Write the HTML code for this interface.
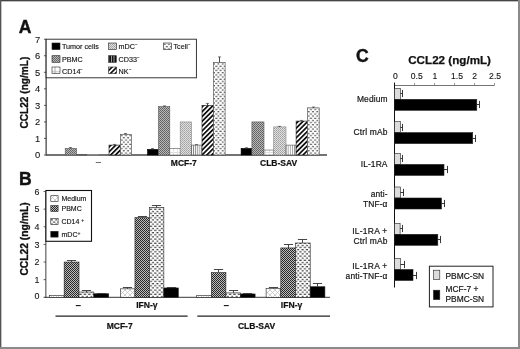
<!DOCTYPE html>
<html><head><meta charset="utf-8"><title>CCL22 figure</title>
<style>html,body{margin:0;padding:0;background:#fff;overflow:hidden}svg{display:block}text{font-family:"Liberation Sans", sans-serif;fill:#111}</style></head><body>
<svg width="520" height="349" viewBox="0 0 520 349">
<defs>
<pattern id="pPBMC" width="2" height="2" patternUnits="userSpaceOnUse"><rect width="2" height="2" fill="#b8b8b8"/><rect width="1" height="1" fill="#606060"/><rect x="1" y="1" width="1" height="1" fill="#6a6a6a"/></pattern>
<pattern id="pCD14" width="4" height="5" patternUnits="userSpaceOnUse"><rect width="4" height="5" fill="#fff"/><rect y="2" width="4" height="1" fill="#ddd"/><rect x="1" width="1" height="5" fill="#e6e6e6"/></pattern>
<pattern id="pMDC" width="2" height="2" patternUnits="userSpaceOnUse"><rect width="2" height="2" fill="#e0e0e0"/><rect width="1" height="1" fill="#a0a0a0"/><rect x="1" y="1" width="1" height="1" fill="#adadad"/></pattern>
<pattern id="pCD33" width="2.1" height="4" patternUnits="userSpaceOnUse"><rect width="2.1" height="4" fill="#fff"/><rect width="0.8" height="4" fill="#808080"/></pattern>
<pattern id="pCD33L" width="2.6" height="4" patternUnits="userSpaceOnUse"><rect width="2.6" height="4" fill="#111"/><rect x="2" width="0.6" height="4" fill="#fff"/></pattern>
<pattern id="pCD14L" x="52" y="67" width="8" height="6.6" patternUnits="userSpaceOnUse"><rect width="8" height="6.6" fill="#fff"/><rect x="2.6" width="0.8" height="6.6" fill="#999"/><rect y="4.2" width="8" height="0.8" fill="#aaa"/></pattern>
<pattern id="pNK" width="3.4" height="3.4" patternUnits="userSpaceOnUse" patternTransform="rotate(-45)"><rect width="3.4" height="3.4" fill="#fff"/><rect width="3.4" height="1.75" fill="#111"/></pattern>
<pattern id="pT" width="4.3" height="4.34" patternUnits="userSpaceOnUse"><rect width="4.3" height="4.34" fill="#fff"/><rect x="0.3" y="0.6" width="2" height="1" fill="#383838"/><rect x="2.45" y="2.77" width="2" height="1" fill="#383838"/></pattern>
<pattern id="pMed" width="5" height="5" patternUnits="userSpaceOnUse"><rect width="5" height="5" fill="#fff"/><path d="M0 0L5 5M5 0L0 5" stroke="#bbb" stroke-width="0.7"/></pattern>
<pattern id="pPB2" width="2" height="2" patternUnits="userSpaceOnUse"><rect width="2" height="2" fill="#bcbcbc"/><rect width="1" height="1" fill="#262626"/><rect x="1" y="1" width="1" height="1" fill="#2c2c2c"/></pattern>
<pattern id="pC14b" width="4.4" height="4.25" patternUnits="userSpaceOnUse"><rect width="4.4" height="4.25" fill="#fff"/><rect x="0.2" y="0.5" width="2.2" height="1.1" fill="#2e2e2e"/><rect x="2.4" y="2.62" width="2.2" height="1.1" fill="#2e2e2e"/></pattern>
</defs>
<rect x="0" y="0" width="520" height="349" fill="#fff"/>
<rect x="0" y="0" width="520" height="1.35" fill="#444"/>
<rect x="0" y="0" width="1.35" height="349" fill="#555"/>
<rect x="518" y="0" width="2" height="349" fill="#8a8a8a"/>
<rect x="0" y="347" width="520" height="2" fill="#8a8a8a"/>
<text x="18.70" y="32.90" font-size="17.6" font-weight="bold" text-anchor="start" stroke="#111" stroke-width="0.4">A</text>
<text transform="translate(27.6,92.6) rotate(-90)" stroke="#111" stroke-width="0.3" font-size="10.1" font-weight="bold" text-anchor="middle">CCL22 (ng/mL)</text>
<line x1="46.15" y1="39.22" x2="46.15" y2="155.60" stroke="#555" stroke-width="1.4"/>
<line x1="46.15" y1="155.00" x2="327.00" y2="155.00" stroke="#444" stroke-width="1.3"/>
<line x1="43.95" y1="155.00" x2="46.15" y2="155.00" stroke="#333" stroke-width="0.8"/>
<text x="40.30" y="158.30" font-size="9.4" text-anchor="end" stroke="#222" stroke-width="0.1">0</text>
<line x1="43.95" y1="138.46" x2="46.15" y2="138.46" stroke="#333" stroke-width="0.8"/>
<text x="40.30" y="141.76" font-size="9.4" text-anchor="end" stroke="#222" stroke-width="0.1">1</text>
<line x1="43.95" y1="121.92" x2="46.15" y2="121.92" stroke="#333" stroke-width="0.8"/>
<text x="40.30" y="125.22" font-size="9.4" text-anchor="end" stroke="#222" stroke-width="0.1">2</text>
<line x1="43.95" y1="105.38" x2="46.15" y2="105.38" stroke="#333" stroke-width="0.8"/>
<text x="40.30" y="108.68" font-size="9.4" text-anchor="end" stroke="#222" stroke-width="0.1">3</text>
<line x1="43.95" y1="88.84" x2="46.15" y2="88.84" stroke="#333" stroke-width="0.8"/>
<text x="40.30" y="92.14" font-size="9.4" text-anchor="end" stroke="#222" stroke-width="0.1">4</text>
<line x1="43.95" y1="72.30" x2="46.15" y2="72.30" stroke="#333" stroke-width="0.8"/>
<text x="40.30" y="75.60" font-size="9.4" text-anchor="end" stroke="#222" stroke-width="0.1">5</text>
<line x1="43.95" y1="55.76" x2="46.15" y2="55.76" stroke="#333" stroke-width="0.8"/>
<text x="40.30" y="59.06" font-size="9.4" text-anchor="end" stroke="#222" stroke-width="0.1">6</text>
<line x1="43.95" y1="39.22" x2="46.15" y2="39.22" stroke="#333" stroke-width="0.8"/>
<text x="40.30" y="42.52" font-size="9.4" text-anchor="end" stroke="#222" stroke-width="0.1">7</text>
<rect x="65.20" y="148.38" width="11.40" height="6.62" fill="url(#pPBMC)" stroke="#5a5a5a" stroke-width="0.6"/>
<line x1="70.50" y1="148.38" x2="70.50" y2="147.56" stroke="#333" stroke-width="0.9"/>
<line x1="68.90" y1="147.56" x2="72.10" y2="147.56" stroke="#444" stroke-width="0.7"/>
<rect x="76.60" y="154.50" width="11.00" height="0.50" fill="url(#pCD14)" stroke="#555" stroke-width="0.6"/>
<rect x="87.60" y="154.50" width="10.80" height="0.50" fill="url(#pMDC)" stroke="#8a8a8a" stroke-width="0.6"/>
<rect x="109.00" y="145.08" width="11.30" height="9.92" fill="url(#pNK)" stroke="#111" stroke-width="0.6"/>
<line x1="114.50" y1="145.08" x2="114.50" y2="144.41" stroke="#333" stroke-width="0.9"/>
<line x1="112.90" y1="144.41" x2="116.10" y2="144.41" stroke="#444" stroke-width="0.7"/>
<rect x="120.30" y="134.32" width="11.30" height="20.67" fill="url(#pT)" stroke="#444" stroke-width="0.6"/>
<line x1="125.50" y1="134.32" x2="125.50" y2="133.50" stroke="#333" stroke-width="0.9"/>
<line x1="123.90" y1="133.50" x2="127.10" y2="133.50" stroke="#444" stroke-width="0.7"/>
<rect x="147.50" y="149.38" width="10.90" height="5.62" fill="#000" stroke="#000" stroke-width="0.6"/>
<line x1="152.50" y1="149.38" x2="152.50" y2="148.55" stroke="#333" stroke-width="0.9"/>
<line x1="150.90" y1="148.55" x2="154.10" y2="148.55" stroke="#444" stroke-width="0.7"/>
<rect x="158.40" y="106.54" width="11.40" height="48.46" fill="url(#pPBMC)" stroke="#5a5a5a" stroke-width="0.6"/>
<line x1="164.50" y1="106.54" x2="164.50" y2="105.88" stroke="#333" stroke-width="0.9"/>
<line x1="162.90" y1="105.88" x2="166.10" y2="105.88" stroke="#444" stroke-width="0.7"/>
<rect x="169.80" y="148.38" width="10.40" height="6.62" fill="url(#pCD14)" stroke="#555" stroke-width="0.6"/>
<rect x="180.20" y="121.92" width="11.40" height="33.08" fill="url(#pMDC)" stroke="#8a8a8a" stroke-width="0.6"/>
<rect x="191.60" y="145.08" width="10.40" height="9.92" fill="url(#pCD33)" stroke="#555" stroke-width="0.6"/>
<line x1="196.50" y1="145.08" x2="196.50" y2="144.58" stroke="#333" stroke-width="0.9"/>
<line x1="194.90" y1="144.58" x2="198.10" y2="144.58" stroke="#444" stroke-width="0.7"/>
<rect x="202.00" y="105.38" width="11.50" height="49.62" fill="url(#pNK)" stroke="#111" stroke-width="0.6"/>
<line x1="207.50" y1="105.38" x2="207.50" y2="103.40" stroke="#333" stroke-width="0.9"/>
<line x1="205.90" y1="103.40" x2="209.10" y2="103.40" stroke="#444" stroke-width="0.7"/>
<rect x="213.50" y="62.38" width="11.60" height="92.62" fill="url(#pT)" stroke="#444" stroke-width="0.6"/>
<line x1="219.50" y1="62.38" x2="219.50" y2="56.92" stroke="#333" stroke-width="0.9"/>
<line x1="217.90" y1="56.92" x2="221.10" y2="56.92" stroke="#444" stroke-width="0.7"/>
<rect x="241.10" y="148.38" width="10.80" height="6.62" fill="#000" stroke="#000" stroke-width="0.6"/>
<line x1="246.50" y1="148.38" x2="246.50" y2="147.72" stroke="#333" stroke-width="0.9"/>
<line x1="244.90" y1="147.72" x2="248.10" y2="147.72" stroke="#444" stroke-width="0.7"/>
<rect x="251.90" y="121.92" width="12.10" height="33.08" fill="url(#pPBMC)" stroke="#5a5a5a" stroke-width="0.6"/>
<rect x="264.00" y="150.04" width="9.70" height="4.96" fill="url(#pCD14)" stroke="#555" stroke-width="0.6"/>
<rect x="273.70" y="126.88" width="12.30" height="28.12" fill="url(#pMDC)" stroke="#8a8a8a" stroke-width="0.6"/>
<line x1="279.50" y1="126.88" x2="279.50" y2="126.39" stroke="#333" stroke-width="0.9"/>
<line x1="277.90" y1="126.39" x2="281.10" y2="126.39" stroke="#444" stroke-width="0.7"/>
<rect x="286.00" y="145.08" width="10.10" height="9.92" fill="url(#pCD33)" stroke="#555" stroke-width="0.6"/>
<rect x="296.10" y="121.09" width="11.30" height="33.91" fill="url(#pNK)" stroke="#111" stroke-width="0.6"/>
<line x1="301.50" y1="121.09" x2="301.50" y2="120.43" stroke="#333" stroke-width="0.9"/>
<line x1="299.90" y1="120.43" x2="303.10" y2="120.43" stroke="#444" stroke-width="0.7"/>
<rect x="307.40" y="107.86" width="11.80" height="47.14" fill="url(#pT)" stroke="#444" stroke-width="0.6"/>
<line x1="313.50" y1="107.86" x2="313.50" y2="107.03" stroke="#333" stroke-width="0.9"/>
<line x1="311.90" y1="107.03" x2="315.10" y2="107.03" stroke="#444" stroke-width="0.7"/>
<text x="98.50" y="165.10" font-size="9.5" text-anchor="middle" fill="#444">–</text>
<text x="183.80" y="166.00" font-size="8.5" font-weight="bold" text-anchor="middle" stroke="#111" stroke-width="0.2">MCF-7</text>
<text x="278.60" y="166.00" font-size="8.5" font-weight="bold" text-anchor="middle" stroke="#111" stroke-width="0.2">CLB-SAV</text>
<rect x="46.15" y="39.20" width="150.25" height="38.60" fill="#fff" stroke="#222" stroke-width="0.9"/>
<rect x="52.00" y="43.00" width="8.00" height="6.60" fill="#000" stroke="#222" stroke-width="0.6"/>
<text x="62.00" y="49.40" font-size="7.2" text-anchor="start" fill="#222" stroke="#222" stroke-width="0.15">Tumor cells</text>
<rect x="52.00" y="55.70" width="8.00" height="6.60" fill="url(#pPBMC)" stroke="#222" stroke-width="0.6"/>
<text x="62.00" y="62.00" font-size="7.2" text-anchor="start" fill="#222" stroke="#222" stroke-width="0.15">PBMC</text>
<rect x="52.00" y="67.00" width="8.00" height="6.60" fill="url(#pCD14L)" stroke="#222" stroke-width="0.6"/>
<text x="62.00" y="73.70" font-size="7.2" text-anchor="start" fill="#222" stroke="#222" stroke-width="0.15">CD14⁻</text>
<rect x="108.60" y="43.00" width="8.00" height="6.60" fill="url(#pMDC)" stroke="#222" stroke-width="0.6"/>
<text x="118.60" y="49.40" font-size="7.2" text-anchor="start" fill="#222" stroke="#222" stroke-width="0.15">mDC⁻</text>
<rect x="108.60" y="55.70" width="8.00" height="6.60" fill="url(#pCD33L)" stroke="#222" stroke-width="0.6"/>
<text x="118.60" y="62.00" font-size="7.2" text-anchor="start" fill="#222" stroke="#222" stroke-width="0.15">CD33⁻</text>
<rect x="108.60" y="67.00" width="8.00" height="6.60" fill="url(#pNK)" stroke="#222" stroke-width="0.6"/>
<text x="118.60" y="73.70" font-size="7.2" text-anchor="start" fill="#222" stroke="#222" stroke-width="0.15">NK⁻</text>
<rect x="163.50" y="43.00" width="8.00" height="6.60" fill="url(#pT)" stroke="#222" stroke-width="0.6"/>
<text x="173.50" y="49.40" font-size="7.2" text-anchor="start" fill="#222" stroke="#222" stroke-width="0.15">Tcell⁻</text>
<text x="18.90" y="184.50" font-size="17.6" font-weight="bold" text-anchor="start" stroke="#111" stroke-width="0.4">B</text>
<text transform="translate(27.8,239) rotate(-90)" stroke="#111" stroke-width="0.3" font-size="10.3" font-weight="bold" text-anchor="middle">CCL22 (ng/mL)</text>
<line x1="45.80" y1="191.52" x2="45.80" y2="297.80" stroke="#777" stroke-width="1.4"/>
<line x1="43.60" y1="297.30" x2="330.00" y2="297.30" stroke="#222" stroke-width="0.9"/>
<text x="39.50" y="299.00" font-size="8.9" text-anchor="end" stroke="#222" stroke-width="0.1">0</text>
<line x1="43.60" y1="279.67" x2="45.80" y2="279.67" stroke="#333" stroke-width="0.8"/>
<text x="39.50" y="282.97" font-size="8.9" text-anchor="end" stroke="#222" stroke-width="0.1">1</text>
<line x1="43.60" y1="262.04" x2="45.80" y2="262.04" stroke="#333" stroke-width="0.8"/>
<text x="39.50" y="265.34" font-size="8.9" text-anchor="end" stroke="#222" stroke-width="0.1">2</text>
<line x1="43.60" y1="244.41" x2="45.80" y2="244.41" stroke="#333" stroke-width="0.8"/>
<text x="39.50" y="247.71" font-size="8.9" text-anchor="end" stroke="#222" stroke-width="0.1">3</text>
<line x1="43.60" y1="226.78" x2="45.80" y2="226.78" stroke="#333" stroke-width="0.8"/>
<text x="39.50" y="230.08" font-size="8.9" text-anchor="end" stroke="#222" stroke-width="0.1">4</text>
<line x1="43.60" y1="209.15" x2="45.80" y2="209.15" stroke="#333" stroke-width="0.8"/>
<text x="39.50" y="212.45" font-size="8.9" text-anchor="end" stroke="#222" stroke-width="0.1">5</text>
<line x1="43.60" y1="191.52" x2="45.80" y2="191.52" stroke="#333" stroke-width="0.8"/>
<text x="39.50" y="194.82" font-size="8.9" text-anchor="end" stroke="#222" stroke-width="0.1">6</text>
<rect x="49.30" y="295.36" width="14.85" height="1.94" fill="url(#pMed)" stroke="#222" stroke-width="0.6"/>
<rect x="64.15" y="262.04" width="14.85" height="35.26" fill="url(#pPB2)" stroke="#222" stroke-width="0.6"/>
<line x1="71.50" y1="262.04" x2="71.50" y2="260.50" stroke="#333" stroke-width="0.9"/>
<line x1="66.90" y1="260.50" x2="76.10" y2="260.50" stroke="#333" stroke-width="0.9"/>
<rect x="79.00" y="292.01" width="14.85" height="5.29" fill="url(#pC14b)" stroke="#222" stroke-width="0.6"/>
<line x1="86.50" y1="292.01" x2="86.50" y2="290.50" stroke="#333" stroke-width="0.9"/>
<line x1="81.90" y1="290.50" x2="91.10" y2="290.50" stroke="#333" stroke-width="0.9"/>
<rect x="93.85" y="293.77" width="14.85" height="3.53" fill="#000" stroke="#222" stroke-width="0.6"/>
<line x1="101.50" y1="293.77" x2="101.50" y2="293.50" stroke="#333" stroke-width="0.9"/>
<line x1="96.90" y1="293.50" x2="106.10" y2="293.50" stroke="#333" stroke-width="0.9"/>
<rect x="120.50" y="288.84" width="14.45" height="8.46" fill="url(#pMed)" stroke="#222" stroke-width="0.6"/>
<line x1="127.50" y1="288.84" x2="127.50" y2="287.50" stroke="#333" stroke-width="0.9"/>
<line x1="122.90" y1="287.50" x2="132.10" y2="287.50" stroke="#333" stroke-width="0.9"/>
<rect x="134.95" y="217.61" width="14.45" height="79.69" fill="url(#pPB2)" stroke="#222" stroke-width="0.6"/>
<line x1="142.50" y1="217.61" x2="142.50" y2="216.50" stroke="#333" stroke-width="0.9"/>
<line x1="137.90" y1="216.50" x2="147.10" y2="216.50" stroke="#333" stroke-width="0.9"/>
<rect x="149.40" y="207.39" width="14.45" height="89.91" fill="url(#pC14b)" stroke="#222" stroke-width="0.6"/>
<line x1="156.50" y1="207.39" x2="156.50" y2="205.50" stroke="#333" stroke-width="0.9"/>
<line x1="151.90" y1="205.50" x2="161.10" y2="205.50" stroke="#333" stroke-width="0.9"/>
<rect x="163.85" y="287.96" width="14.45" height="9.34" fill="#000" stroke="#222" stroke-width="0.6"/>
<line x1="171.50" y1="287.96" x2="171.50" y2="287.50" stroke="#333" stroke-width="0.9"/>
<line x1="166.90" y1="287.50" x2="176.10" y2="287.50" stroke="#333" stroke-width="0.9"/>
<rect x="196.70" y="295.54" width="14.60" height="1.76" fill="url(#pMed)" stroke="#222" stroke-width="0.6"/>
<rect x="211.30" y="272.62" width="14.60" height="24.68" fill="url(#pPB2)" stroke="#222" stroke-width="0.6"/>
<line x1="218.50" y1="272.62" x2="218.50" y2="269.50" stroke="#333" stroke-width="0.9"/>
<line x1="213.90" y1="269.50" x2="223.10" y2="269.50" stroke="#333" stroke-width="0.9"/>
<rect x="225.90" y="292.89" width="14.60" height="4.41" fill="url(#pC14b)" stroke="#222" stroke-width="0.6"/>
<line x1="233.50" y1="292.89" x2="233.50" y2="290.50" stroke="#333" stroke-width="0.9"/>
<line x1="228.90" y1="290.50" x2="238.10" y2="290.50" stroke="#333" stroke-width="0.9"/>
<rect x="240.50" y="293.95" width="14.60" height="3.35" fill="#000" stroke="#222" stroke-width="0.6"/>
<line x1="247.50" y1="293.95" x2="247.50" y2="293.50" stroke="#333" stroke-width="0.9"/>
<line x1="242.90" y1="293.50" x2="252.10" y2="293.50" stroke="#333" stroke-width="0.9"/>
<rect x="266.10" y="288.49" width="14.70" height="8.81" fill="url(#pMed)" stroke="#222" stroke-width="0.6"/>
<line x1="273.50" y1="288.49" x2="273.50" y2="287.50" stroke="#333" stroke-width="0.9"/>
<line x1="268.90" y1="287.50" x2="278.10" y2="287.50" stroke="#333" stroke-width="0.9"/>
<rect x="280.80" y="247.94" width="14.70" height="49.36" fill="url(#pPB2)" stroke="#222" stroke-width="0.6"/>
<line x1="288.50" y1="247.94" x2="288.50" y2="244.50" stroke="#333" stroke-width="0.9"/>
<line x1="283.90" y1="244.50" x2="293.10" y2="244.50" stroke="#333" stroke-width="0.9"/>
<rect x="295.50" y="243.00" width="14.70" height="54.30" fill="url(#pC14b)" stroke="#222" stroke-width="0.6"/>
<line x1="302.50" y1="243.00" x2="302.50" y2="239.50" stroke="#333" stroke-width="0.9"/>
<line x1="297.90" y1="239.50" x2="307.10" y2="239.50" stroke="#333" stroke-width="0.9"/>
<rect x="310.20" y="286.72" width="14.70" height="10.58" fill="#000" stroke="#222" stroke-width="0.6"/>
<line x1="317.50" y1="286.72" x2="317.50" y2="283.50" stroke="#333" stroke-width="0.9"/>
<line x1="312.90" y1="283.50" x2="322.10" y2="283.50" stroke="#333" stroke-width="0.9"/>
<text x="78.30" y="309.20" font-size="10" font-weight="bold" text-anchor="middle">–</text>
<text x="146.90" y="307.50" font-size="8.6" font-weight="bold" text-anchor="middle" stroke="#111" stroke-width="0.2">IFN-γ</text>
<text x="226.40" y="309.20" font-size="10" font-weight="bold" text-anchor="middle">–</text>
<text x="291.60" y="307.50" font-size="8.6" font-weight="bold" text-anchor="middle" stroke="#111" stroke-width="0.2">IFN-γ</text>
<line x1="55.50" y1="316.10" x2="187.60" y2="316.10" stroke="#222" stroke-width="1.1"/>
<line x1="197.30" y1="316.10" x2="330.00" y2="316.10" stroke="#222" stroke-width="1.1"/>
<text x="119.70" y="329.20" font-size="8.5" font-weight="bold" text-anchor="middle" stroke="#111" stroke-width="0.2">MCF-7</text>
<text x="256.50" y="329.20" font-size="8.5" font-weight="bold" text-anchor="middle" stroke="#111" stroke-width="0.2">CLB-SAV</text>
<rect x="45.90" y="190.50" width="45.60" height="50.80" fill="#fff" stroke="#111" stroke-width="1.1"/>
<rect x="50.80" y="195.70" width="7.30" height="5.80" fill="url(#pMed)" stroke="#222" stroke-width="0.6"/>
<text x="61.50" y="201.30" font-size="7" text-anchor="start" fill="#222" stroke="#222" stroke-width="0.15">Medium</text>
<rect x="50.80" y="205.60" width="7.30" height="5.80" fill="url(#pPB2)" stroke="#222" stroke-width="0.6"/>
<text x="61.50" y="211.20" font-size="7" text-anchor="start" fill="#222" stroke="#222" stroke-width="0.15">PBMC</text>
<rect x="50.80" y="218.60" width="7.30" height="5.80" fill="url(#pC14b)" stroke="#222" stroke-width="0.6"/>
<text x="61.50" y="224.20" font-size="7" text-anchor="start" fill="#222" stroke="#222" stroke-width="0.15">CD14 <tspan font-size="5" dy="-2">+</tspan></text>
<rect x="50.80" y="231.30" width="7.30" height="5.80" fill="#000" stroke="#222" stroke-width="0.6"/>
<text x="61.50" y="236.90" font-size="7" text-anchor="start" fill="#222" stroke="#222" stroke-width="0.15">mDC<tspan font-size="5" dy="-2">+</tspan></text>
<text x="355.90" y="62.30" font-size="17.6" font-weight="bold" text-anchor="start" stroke="#111" stroke-width="0.4">C</text>
<text x="449.60" y="64.40" font-size="11.65" font-weight="bold" text-anchor="middle" stroke="#111" stroke-width="0.25">CCL22 (ng/mL)</text>
<line x1="394.50" y1="85.50" x2="494.50" y2="85.50" stroke="#666" stroke-width="0.9"/>
<line x1="394.50" y1="83.10" x2="394.50" y2="85.50" stroke="#777" stroke-width="0.8"/>
<text x="395.30" y="79.20" font-size="8.6" text-anchor="middle" stroke="#222" stroke-width="0.12">0</text>
<line x1="414.50" y1="83.10" x2="414.50" y2="85.50" stroke="#777" stroke-width="0.8"/>
<text x="416.70" y="79.20" font-size="8.6" text-anchor="middle" stroke="#222" stroke-width="0.12">0.5</text>
<line x1="434.50" y1="83.10" x2="434.50" y2="85.50" stroke="#777" stroke-width="0.8"/>
<text x="434.80" y="79.20" font-size="8.6" text-anchor="middle" stroke="#222" stroke-width="0.12">1</text>
<line x1="454.50" y1="83.10" x2="454.50" y2="85.50" stroke="#777" stroke-width="0.8"/>
<text x="457.00" y="79.20" font-size="8.6" text-anchor="middle" stroke="#222" stroke-width="0.12">1.5</text>
<line x1="474.50" y1="83.10" x2="474.50" y2="85.50" stroke="#777" stroke-width="0.8"/>
<text x="474.70" y="79.20" font-size="8.6" text-anchor="middle" stroke="#222" stroke-width="0.12">2</text>
<line x1="494.50" y1="83.10" x2="494.50" y2="85.50" stroke="#777" stroke-width="0.8"/>
<text x="495.10" y="79.20" font-size="8.6" text-anchor="middle" stroke="#222" stroke-width="0.12">2.5</text>
<line x1="394.50" y1="82.60" x2="394.50" y2="287.50" stroke="#111" stroke-width="1.0"/>
<rect x="394.50" y="88.30" width="6.00" height="11.00" fill="#dcdcdc" stroke="#222" stroke-width="0.6"/>
<rect x="394.50" y="99.30" width="82.28" height="11.00" fill="#000" stroke="#222" stroke-width="0.6"/>
<line x1="400.50" y1="93.50" x2="402.50" y2="93.50" stroke="#222" stroke-width="0.9"/>
<line x1="402.50" y1="89.90" x2="402.50" y2="97.10" stroke="#222" stroke-width="0.9"/>
<line x1="476.78" y1="104.50" x2="479.50" y2="104.50" stroke="#222" stroke-width="0.9"/>
<line x1="479.50" y1="100.90" x2="479.50" y2="108.10" stroke="#222" stroke-width="0.9"/>
<text x="387.60" y="101.80" font-size="8.45" text-anchor="end" stroke="#222" stroke-width="0.2" letter-spacing="0.1">Medium</text>
<rect x="394.50" y="121.60" width="6.00" height="11.00" fill="#dcdcdc" stroke="#222" stroke-width="0.6"/>
<rect x="394.50" y="132.60" width="78.20" height="11.00" fill="#000" stroke="#222" stroke-width="0.6"/>
<line x1="400.50" y1="127.50" x2="402.50" y2="127.50" stroke="#222" stroke-width="0.9"/>
<line x1="402.50" y1="123.90" x2="402.50" y2="131.10" stroke="#222" stroke-width="0.9"/>
<line x1="472.70" y1="138.50" x2="475.50" y2="138.50" stroke="#222" stroke-width="0.9"/>
<line x1="475.50" y1="134.90" x2="475.50" y2="142.10" stroke="#222" stroke-width="0.9"/>
<text x="387.60" y="135.20" font-size="8.45" text-anchor="end" stroke="#222" stroke-width="0.2" letter-spacing="0.15">Ctrl mAb</text>
<rect x="394.50" y="153.40" width="6.00" height="11.00" fill="#dcdcdc" stroke="#222" stroke-width="0.6"/>
<rect x="394.50" y="164.40" width="49.50" height="11.00" fill="#000" stroke="#222" stroke-width="0.6"/>
<line x1="400.50" y1="158.50" x2="402.50" y2="158.50" stroke="#222" stroke-width="0.9"/>
<line x1="402.50" y1="154.90" x2="402.50" y2="162.10" stroke="#222" stroke-width="0.9"/>
<line x1="444.00" y1="169.50" x2="447.50" y2="169.50" stroke="#222" stroke-width="0.9"/>
<line x1="447.50" y1="165.90" x2="447.50" y2="173.10" stroke="#222" stroke-width="0.9"/>
<text x="387.60" y="167.00" font-size="8.45" text-anchor="end" stroke="#222" stroke-width="0.2" letter-spacing="0.1">IL-1RA</text>
<rect x="394.50" y="187.00" width="6.00" height="11.00" fill="#dcdcdc" stroke="#222" stroke-width="0.6"/>
<rect x="394.50" y="198.00" width="47.00" height="11.00" fill="#000" stroke="#222" stroke-width="0.6"/>
<line x1="400.50" y1="192.50" x2="403.50" y2="192.50" stroke="#222" stroke-width="0.9"/>
<line x1="403.50" y1="188.90" x2="403.50" y2="196.10" stroke="#222" stroke-width="0.9"/>
<line x1="441.50" y1="203.50" x2="444.50" y2="203.50" stroke="#222" stroke-width="0.9"/>
<line x1="444.50" y1="199.90" x2="444.50" y2="207.10" stroke="#222" stroke-width="0.9"/>
<text x="387.60" y="197.20" font-size="8.45" text-anchor="end" stroke="#222" stroke-width="0.2" letter-spacing="0.1">anti-</text>
<text x="387.60" y="207.20" font-size="8.45" text-anchor="end" stroke="#222" stroke-width="0.2" letter-spacing="0.1">TNF-α</text>
<rect x="394.50" y="223.30" width="5.60" height="11.00" fill="#dcdcdc" stroke="#222" stroke-width="0.6"/>
<rect x="394.50" y="234.30" width="43.32" height="11.00" fill="#000" stroke="#222" stroke-width="0.6"/>
<line x1="400.10" y1="228.50" x2="402.50" y2="228.50" stroke="#222" stroke-width="0.9"/>
<line x1="402.50" y1="224.90" x2="402.50" y2="232.10" stroke="#222" stroke-width="0.9"/>
<line x1="437.82" y1="239.50" x2="440.50" y2="239.50" stroke="#222" stroke-width="0.9"/>
<line x1="440.50" y1="235.90" x2="440.50" y2="243.10" stroke="#222" stroke-width="0.9"/>
<text x="387.60" y="233.80" font-size="8.45" text-anchor="end" stroke="#222" stroke-width="0.2" letter-spacing="0.3">IL-1RA +</text>
<text x="387.60" y="244.00" font-size="8.45" text-anchor="end" stroke="#222" stroke-width="0.2" letter-spacing="0.15">Ctrl mAb</text>
<rect x="394.50" y="258.50" width="6.00" height="11.00" fill="#dcdcdc" stroke="#222" stroke-width="0.6"/>
<rect x="394.50" y="269.50" width="18.50" height="11.00" fill="#000" stroke="#222" stroke-width="0.6"/>
<line x1="400.50" y1="264.50" x2="404.50" y2="264.50" stroke="#222" stroke-width="0.9"/>
<line x1="404.50" y1="260.90" x2="404.50" y2="268.10" stroke="#222" stroke-width="0.9"/>
<line x1="413.00" y1="275.50" x2="416.50" y2="275.50" stroke="#222" stroke-width="0.9"/>
<line x1="416.50" y1="271.90" x2="416.50" y2="279.10" stroke="#222" stroke-width="0.9"/>
<text x="387.60" y="269.00" font-size="8.45" text-anchor="end" stroke="#222" stroke-width="0.2" letter-spacing="0.3">IL-1RA +</text>
<text x="387.60" y="279.00" font-size="8.45" text-anchor="end" stroke="#222" stroke-width="0.2" letter-spacing="0.15">anti-TNF-α</text>
<rect x="429.40" y="266.20" width="63.60" height="40.70" fill="#fff" stroke="#222" stroke-width="1.0"/>
<rect x="433.50" y="270.20" width="6.30" height="9.40" fill="#dcdcdc" stroke="#222" stroke-width="0.6"/>
<rect x="433.50" y="290.20" width="6.30" height="9.40" fill="#000" stroke="#222" stroke-width="0.6"/>
<text x="445.50" y="279.20" font-size="8.4" text-anchor="start" stroke="#222" stroke-width="0.2">PBMC-SN</text>
<text x="445.50" y="291.60" font-size="8.4" text-anchor="start" stroke="#222" stroke-width="0.2">MCF-7 +</text>
<text x="445.50" y="301.50" font-size="8.4" text-anchor="start" stroke="#222" stroke-width="0.2">PBMC-SN</text>
</svg></body></html>
